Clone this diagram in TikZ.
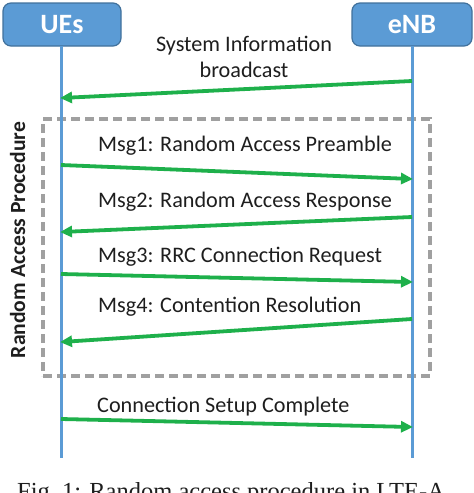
\documentclass[tikz,border=0pt]{standalone}
\usepackage{fontspec}
\setmainfont{Carlito}
\newfontfamily\capfont{Liberation Serif}
\usetikzlibrary{arrows.meta}
\definecolor{boxblue}{RGB}{91,155,213}
\definecolor{boxedge}{RGB}{65,113,156}
\definecolor{msggreen}{RGB}{30,176,75}
\definecolor{dashgray}{RGB}{160,160,160}
\definecolor{txt}{RGB}{30,30,30}
\tikzset{
  entity/.style={draw=boxedge, line width=1.2pt, fill=boxblue, rounded corners=8pt, text=white, font=\fontsize{28}{30}\selectfont\bfseries, inner sep=0pt},
  lifeline/.style={draw=boxblue, line width=3pt},
  msg/.style={draw=msggreen, line width=3.8pt, -{Triangle[length=12pt,width=11pt]}, shorten >=-1pt},
  lbl/.style={text=txt, font=\fontsize{22.2}{26}\selectfont, inner sep=0pt, anchor=base west},
  procbox/.style={draw=dashgray, line width=4pt, dash pattern=on 9pt off 5pt},
}
\begin{document}
\begin{tikzpicture}[x=1pt,y=-1pt]
\useasboundingbox (0,0) rectangle (474,493);
% procedure box
\node[procbox, minimum width=387pt, minimum height=257pt, inner sep=0pt] (proc) at (236.5,247.5) {};
% entities
\node[entity, minimum width=118pt, minimum height=43pt] (ue) at (62,24.5) {UEs};
\node[entity, minimum width=120pt, minimum height=43pt] (enb) at (412,24.5) {eNB};
% lifeline ends
\coordinate (ueEnd) at (61,458);
\coordinate (enbEnd) at (412,458);
\draw[lifeline] (61,46) -- (ueEnd);
\draw[lifeline] (412,46) -- (enbEnd);
% message end points
\coordinate (s0) at (412,81);  \coordinate (e0) at (61,98);
\coordinate (s1) at (61,165);  \coordinate (e1) at (412,179);
\coordinate (s2) at (412,217); \coordinate (e2) at (61,232);
\coordinate (s3) at (61,274);  \coordinate (e3) at (412,282);
\coordinate (s4) at (412,319); \coordinate (e4) at (61,342);
\coordinate (s5) at (61,419);  \coordinate (e5) at (412,427);
\draw[msg] (s0) -- (e0);
\draw[msg] (s1) -- (e1);
\draw[msg] (s2) -- (e2);
\draw[msg] (s3) -- (e3);
\draw[msg] (s4) -- (e4);
\draw[msg] (s5) -- (e5);
% labels
\node[lbl, anchor=base, align=center] (l0) at (244,77) {System Information\\broadcast};
\node[lbl] (l1) at (98,151) {Msg1: Random Access Preamble};
\node[lbl] (l2) at (98,207) {Msg2: Random Access Response};
\node[lbl] (l3) at (98,262) {Msg3: RRC Connection Request};
\node[lbl] (l4) at (98,312) {Msg4: Contention Resolution};
\node[lbl] (l5) at (97,412) {Connection Setup Complete};
\node[text=txt, font=\fontsize{21.6}{24}\selectfont\bfseries, rotate=90, inner sep=0pt, anchor=base] (rap) at (25,240) {Random Access Procedure};
% caption (cut off by page edge, as in the reference)
\node[text=txt, font=\capfont\fontsize{24.5}{28}\selectfont, inner sep=0pt, anchor=base west] (cap) at (17,499) {Fig.~1: Random access procedure in LTE-A};
\end{tikzpicture}
\end{document}
